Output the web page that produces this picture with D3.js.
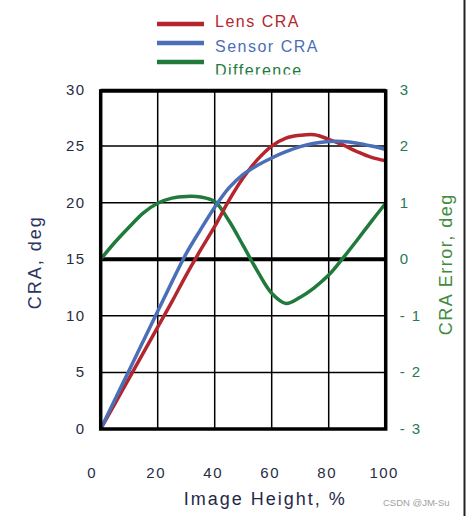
<!DOCTYPE html>
<html>
<head>
<meta charset="utf-8">
<script src="https://cdn.jsdelivr.net/npm/d3@7"></script>
<style>
  body { margin: 0; background: #fff; }
  text { font-family: "Liberation Sans", Arial, sans-serif; }
</style>
</head>
<body>
<div class="canvas"></div>
<script>
// chart data
const heights = [0, 5, 10, 15, 20, 25, 30, 35, 40, 45, 50, 55, 60, 65, 70, 75, 80, 85, 90, 95, 100];
const lensCRA = [0, 2.25, 4.5, 6.75, 9.0, 11.25, 13.6, 15.8, 17.9, 20.2, 22.2, 23.8, 25.0, 25.7, 25.95, 26.0, 25.6, 25.1, 24.5, 24.0, 23.7];
const sensorCRA = [0, 2.6, 5.2, 7.8, 10.4, 13.0, 15.5, 17.6, 19.6, 21.3, 22.5, 23.3, 23.95, 24.5, 24.95, 25.25, 25.4, 25.4, 25.25, 25.0, 24.7];
const difference = [0, 0.3, 0.57, 0.82, 0.99, 1.08, 1.11, 1.10, 1.02, 0.68, 0.24, -0.21, -0.60, -0.78, -0.67, -0.50, -0.28, 0.02, 0.34, 0.67, 0.99];

const xTicks = [0, 20, 40, 60, 80, 100];
const yTicks = [0, 5, 10, 15, 20, 25, 30];
const y2Ticks = [-3, -2, -1, 0, 1, 2, 3];
const legendNames = ['Lens CRA', 'Sensor CRA', 'Difference'];

// sizes
const dims = {width: 466, height: 516};
const plot = {left: 100.7, right: 385.7, top: 89.5, bottom: 429};

const colors = {lens: '#b3262e', sensor: '#4a6fb6', diff: '#1f7a3c'};

const svg = d3.select('.canvas')
    .append('svg')
    .attr('width', dims.width)
    .attr('height', dims.height);

// scales
const x = d3.scaleLinear().domain([0, 100]).range([plot.left, plot.right]);
const y = d3.scaleLinear().domain([0, 30]).range([plot.bottom, plot.top]);
const y2 = d3.scaleLinear().domain([-3, 3]).range([plot.bottom, plot.top]);

// grid lines
const grid = svg.append('g');
grid.selectAll('line.v')
    .data(xTicks)
    .enter().append('line')
    .attr('x1', d => x(d)).attr('x2', d => x(d))
    .attr('y1', plot.top).attr('y2', plot.bottom)
    .attr('stroke', '#000').attr('stroke-width', 1.5);
grid.selectAll('line.h')
    .data(yTicks)
    .enter().append('line')
    .attr('x1', plot.left).attr('x2', plot.right)
    .attr('y1', d => y(d)).attr('y2', d => y(d))
    .attr('stroke', '#000').attr('stroke-width', 1.5);

// the thick zero line of the error axis
svg.append('line')
    .attr('x1', plot.left).attr('x2', plot.right)
    .attr('y1', y2(0)).attr('y2', y2(0))
    .attr('stroke', '#000').attr('stroke-width', 4);

// lines
const lineOf = (vals, scale) => d3.line()
    .x((d, i) => x(heights[i]))
    .y(d => scale(d))
    .curve(d3.curveCatmullRom.alpha(0.5))(vals);

svg.append('path').attr('d', lineOf(difference, y2))
    .attr('fill', 'none').attr('stroke', colors.diff).attr('stroke-width', 3.5);
svg.append('path').attr('d', lineOf(lensCRA, y))
    .attr('fill', 'none').attr('stroke', colors.lens).attr('stroke-width', 3.5);
svg.append('path').attr('d', lineOf(sensorCRA, y))
    .attr('fill', 'none').attr('stroke', colors.sensor).attr('stroke-width', 3.5);

// plot border
svg.append('rect')
    .attr('x', plot.left).attr('y', plot.top + 1.5)
    .attr('width', plot.right - plot.left)
    .attr('height', plot.bottom - plot.top - 1.5)
    .attr('fill', 'none').attr('stroke', '#000').attr('stroke-width', 3.5);

// axes (labels only)
const xAxis = svg.append('g')
    .attr('transform', `translate(0, ${plot.bottom})`)
    .call(d3.axisBottom(x).tickValues(xTicks).tickSize(0).tickPadding(0));
xAxis.select('.domain').remove();
xAxis.selectAll('text')
    .attr('y', 38)
    .attr('dx', d => d === 0 ? -9 : -2)
    .style('font-size', '15px').style('letter-spacing', '1.5px')
    .attr('fill', '#272c45');

const yAxis = svg.append('g')
    .attr('transform', `translate(${plot.left}, 0)`)
    .call(d3.axisLeft(y).tickValues(yTicks).tickSize(0).tickPadding(0));
yAxis.select('.domain').remove();
yAxis.selectAll('text')
    .attr('x', -15)
    .attr('dy', '0.3em')
    .style('font-size', '15px').style('letter-spacing', '1.5px')
    .attr('fill', '#272c45');

const y2Axis = svg.append('g')
    .attr('transform', `translate(${plot.right}, 0)`)
    .call(d3.axisRight(y2).tickValues(y2Ticks).tickSize(0).tickPadding(0)
        .tickFormat(d => d < 0 ? '- ' + Math.abs(d) : d));
y2Axis.select('.domain').remove();
y2Axis.selectAll('text')
    .attr('x', 14)
    .attr('dy', '0.3em')
    .style('font-size', '15px').style('letter-spacing', '1.5px')
    .attr('fill', '#267a55');

// axis titles
svg.append('text')
    .attr('transform', `translate(41, ${(plot.top + plot.bottom) / 2 + 3}) rotate(-90)`)
    .attr('text-anchor', 'middle')
    .style('font-size', '18px').style('letter-spacing', '2px')
    .attr('fill', '#2b3560')
    .text('CRA, deg');

svg.append('text')
    .attr('transform', `translate(452, ${(plot.top + plot.bottom) / 2 + 5}) rotate(-90)`)
    .attr('text-anchor', 'middle')
    .style('font-size', '18px').style('letter-spacing', '1.5px')
    .attr('fill', '#3f8c3f')
    .text('CRA Error, deg');

svg.append('text')
    .attr('x', (plot.left + plot.right) / 2 + 22)
    .attr('y', 505)
    .attr('text-anchor', 'middle')
    .style('font-size', '18px').style('letter-spacing', '2px')
    .attr('fill', '#1f2947')
    .text('Image Height, %');

// legend, cut off at the bottom like in the picture
svg.append('clipPath').attr('id', 'legclip')
    .append('rect').attr('x', 0).attr('y', 0).attr('width', dims.width).attr('height', 74.5);

const legend = svg.append('g').attr('clip-path', 'url(#legclip)');
const legColors = [colors.lens, colors.sensor, colors.diff];
const legLineY = [24, 43, 62];
const legTextY = [26.5, 51.5, 76];

legend.selectAll('line')
    .data(legendNames)
    .enter().append('line')
    .attr('x1', 157).attr('x2', 204)
    .attr('y1', (d, i) => legLineY[i]).attr('y2', (d, i) => legLineY[i])
    .attr('stroke', (d, i) => legColors[i]).attr('stroke-width', 4.5);

legend.selectAll('text')
    .data(legendNames)
    .enter().append('text')
    .attr('x', 215)
    .attr('y', (d, i) => legTextY[i])
    .style('font-size', '16px').style('letter-spacing', '1.5px')
    .attr('fill', (d, i) => legColors[i])
    .text(d => d);

// watermark and right edge line
svg.append('text')
    .attr('x', 383).attr('y', 506)
    .style('font-size', '9.5px')
    .attr('fill', '#a0a0a0')
    .text('CSDN @JM-Su');

svg.append('line')
    .attr('x1', 464.5).attr('x2', 464.5)
    .attr('y1', 0).attr('y2', dims.height)
    .attr('stroke', '#222').attr('stroke-width', 2);
</script>
</body>
</html>
